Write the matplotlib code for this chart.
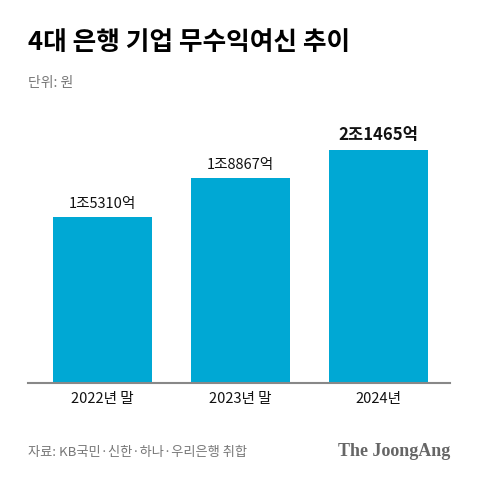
import matplotlib
matplotlib.use("Agg")
import matplotlib.pyplot as plt

plt.rcParams['font.family'] = ['Noto Sans CJK KR', 'DejaVu Sans']

# data (억원)
years = ["2022년 말", "2023년 말", "2024년"]
values = [15310, 18867, 21465]
labels = ["1조5310억", "1조8867억", "2조1465억"]

BAR = "#00a8d4"
GRAY = "#777777"

fig = plt.figure(figsize=(4.8, 4.81), dpi=100)
W, H = 480, 481
ax = fig.add_axes([28 / W, 1 - 384 / H, 422 / W, 326 / H])

x = range(len(values))
ax.bar(x, values, width=0.717, color=BAR, zorder=2)
ax.set_xlim(-0.54, 2.52)
ax.set_ylim(0, 30000)

for i, (v, lab) in enumerate(zip(values, labels)):
    last = i == len(values) - 1
    ax.annotate(lab, (i, v), xytext=(0, 5), textcoords="offset points",
                ha="center", va="bottom", color="#111111",
                fontsize=12 if last else 10.5,
                fontweight="bold" if last else "normal")

for s in ["top", "right", "left"]:
    ax.spines[s].set_visible(False)
ax.spines["bottom"].set_color("#888888")
ax.spines["bottom"].set_linewidth(1.5)
ax.set_yticks([])
ax.set_xticks(list(x))
ax.set_xticklabels(years, fontsize=10.5, color="#111111")
ax.tick_params(axis="x", length=0, pad=6)

fig.text(28 / W, 1 - 43 / H, "4대 은행 기업 무수익여신 추이", fontsize=18.5,
         fontweight="heavy", va="center", ha="left", color="#000000")
fig.text(28 / W, 1 - 83 / H, "단위: 원", fontsize=10, color=GRAY,
         va="center", ha="left")
fig.text(28 / W, 1 - 453 / H, "자료: KB국민·신한·하나·우리은행 취합", fontsize=9.5,
         color=GRAY, va="center", ha="left")
fig.text(450 / W, 1 - 452 / H, "The JoongAng", fontsize=13,
         family="Liberation Serif", fontweight="bold", color="#666666",
         va="center", ha="right")

fig.savefig("out.png", dpi=100, facecolor="white")
